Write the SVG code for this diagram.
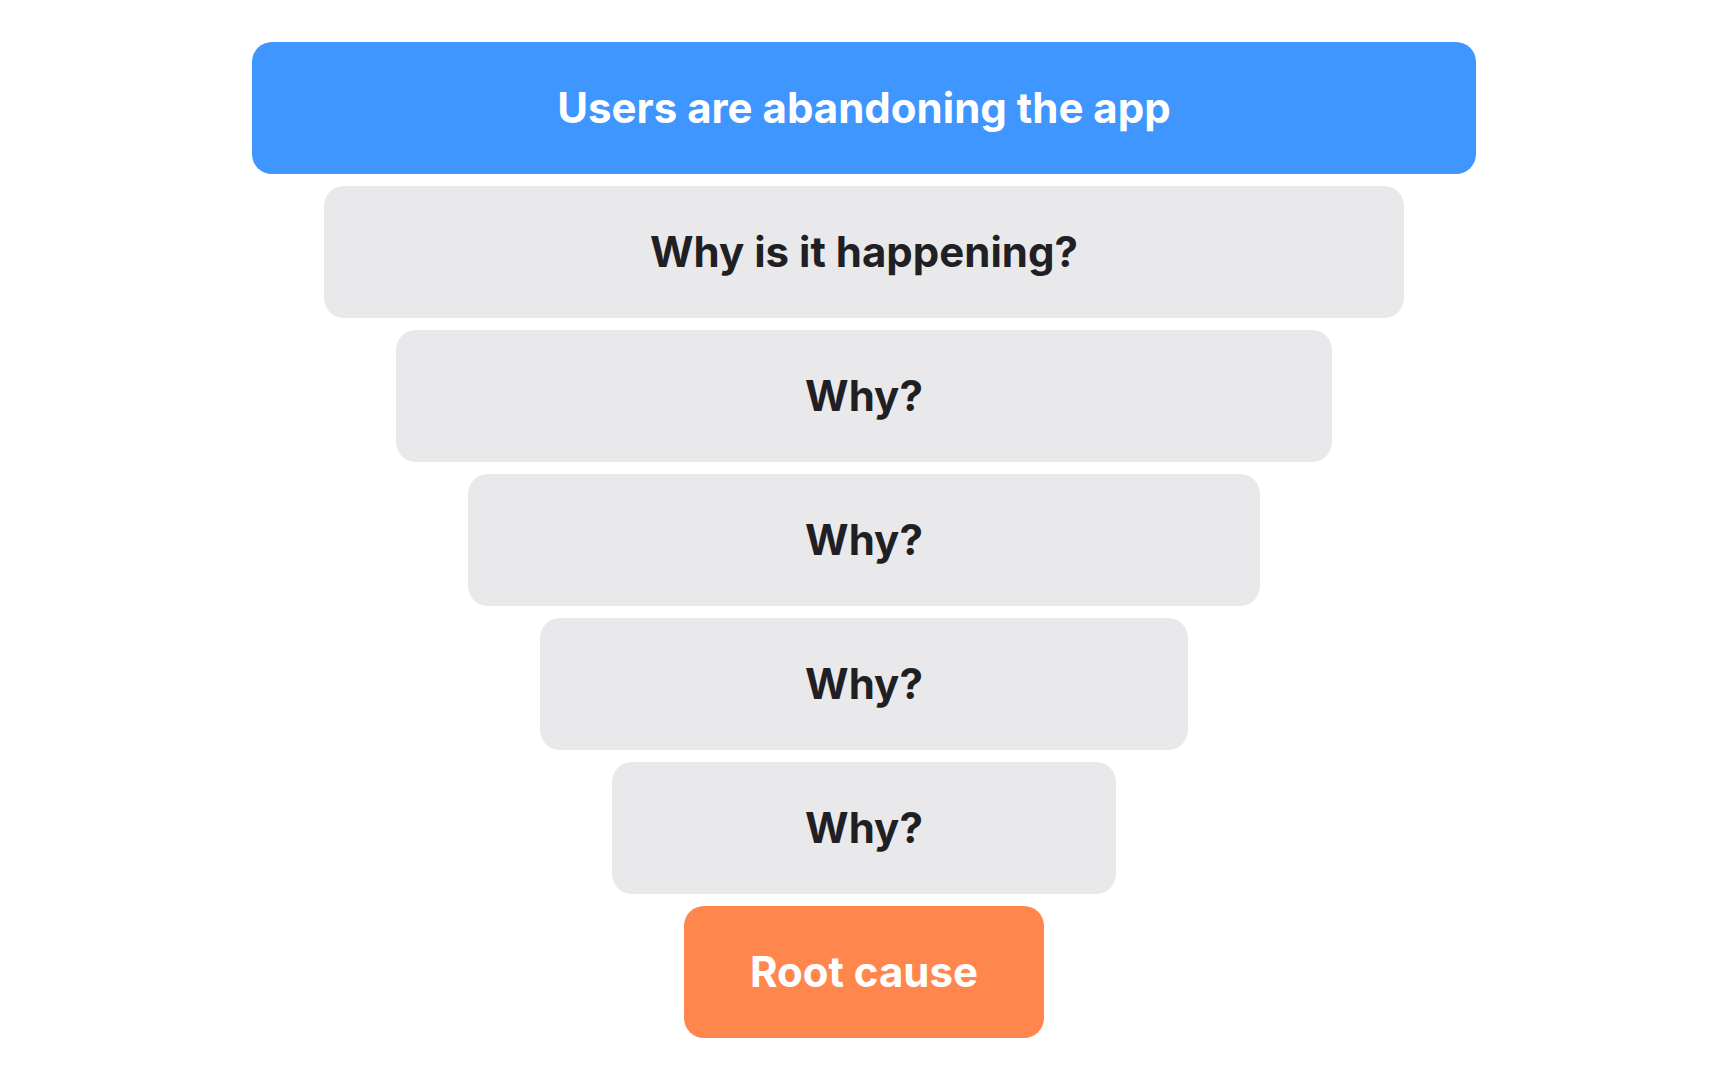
<svg xmlns="http://www.w3.org/2000/svg" width="1728" height="1080" viewBox="0 0 1728 1080">
<style>
.box{fill:#E9E9EB}
.lbl{font-family:Inter,"Liberation Sans",sans-serif;font-weight:700;font-size:42px;text-anchor:middle;fill:#1F1F24}
.w{fill:#FFFFFF}
</style>
<rect width="1728" height="1080" fill="#FFFFFF"/>
<g id="n0"><rect x="252" y="42" width="1224" height="132" rx="20" fill="#4096FF"/><text class="lbl w" x="864" y="123">Users are abandoning the app</text></g>
<g id="n1"><rect class="box" x="324" y="186" width="1080" height="132" rx="20"/><text class="lbl" x="864" y="267">Why is it happening?</text></g>
<g id="n2"><rect class="box" x="396" y="330" width="936" height="132" rx="20"/><text class="lbl" x="864" y="411">Why?</text></g>
<g id="n3"><rect class="box" x="468" y="474" width="792" height="132" rx="20"/><text class="lbl" x="864" y="555">Why?</text></g>
<g id="n4"><rect class="box" x="540" y="618" width="648" height="132" rx="20"/><text class="lbl" x="864" y="699">Why?</text></g>
<g id="n5"><rect class="box" x="612" y="762" width="504" height="132" rx="20"/><text class="lbl" x="864" y="843">Why?</text></g>
<g id="n6"><rect x="684" y="906" width="360" height="132" rx="20" fill="#FF874D"/><text class="lbl w" x="864" y="987">Root cause</text></g>
<g id="connectors"></g>
</svg>
